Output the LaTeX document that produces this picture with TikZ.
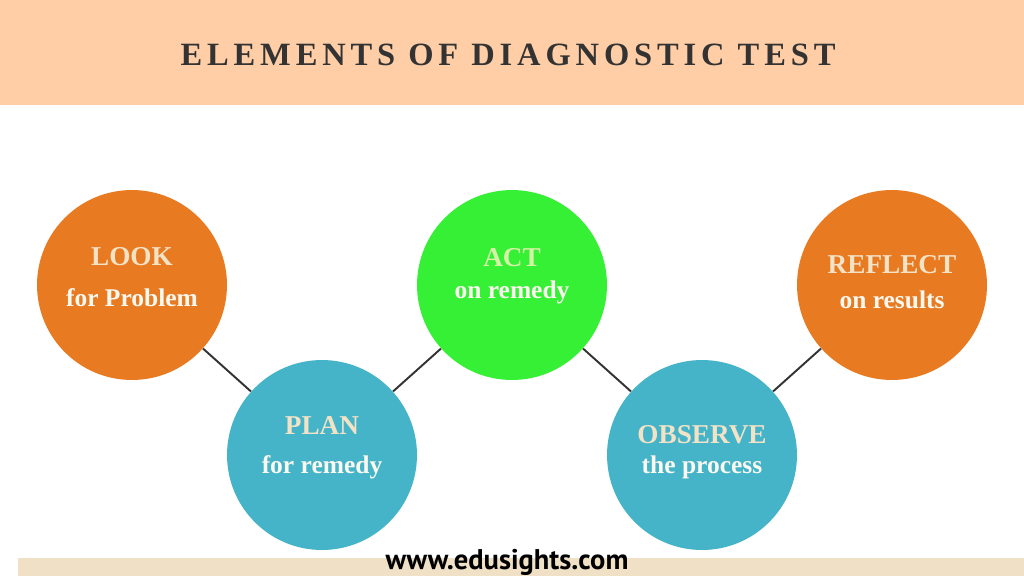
\documentclass[tikz,border=0pt]{standalone}
\usepackage{fontspec}
\setmainfont{Liberation Serif}
\newfontfamily\titlefont[LetterSpace=15]{Liberation Serif}
\newfontfamily\urlfont{PT Sans}
\definecolor{peach}{HTML}{FFCEA6}
\definecolor{sand}{HTML}{EFE0C6}
\definecolor{orangec}{HTML}{E87B22}
\definecolor{bluec}{HTML}{45B4C8}
\definecolor{greenc}{HTML}{35F035}
\definecolor{beige}{HTML}{F2E2C6}
\definecolor{lightgreen}{HTML}{D6F2A6}
\definecolor{offwhite}{HTML}{FBF8F0}
\definecolor{darktext}{HTML}{333333}
\tikzset{
  ball/.style={circle, minimum size=3.8cm, inner sep=0pt, draw=none},
  headline/.style={font=\fontsize{15.5}{18}\selectfont\bfseries, text=beige, inner sep=0pt},
  subline/.style={font=\fontsize{14.5}{17}\selectfont\bfseries, text=offwhite, inner sep=0pt},
  link/.style={draw=darktext, line width=1.1pt},
}
\begin{document}
\begin{tikzpicture}[x=0.02cm,y=-0.02cm]
\useasboundingbox (0,0) rectangle (1024,576);
\fill[white] (0,0) rectangle (1024,576);
\fill[peach] (0,0) rectangle (1024,105);
\fill[sand] (18,558) rectangle (1024,576);
\node[inner sep=0pt, text=darktext, font=\titlefont\fontsize{18.5}{20}\selectfont\bfseries] (title) at (508,55) {ELEMENTS OF DIAGNOSTIC TEST};

\node[ball, fill=orangec] (look) at (132,285) {};
\node[ball, fill=bluec] (plan) at (322,455) {};
\node[ball, fill=greenc] (act) at (512,285) {};
\node[ball, fill=bluec] (observe) at (702,455) {};
\node[ball, fill=orangec] (reflect) at (892,285) {};

\draw[link] (look) -- (plan);
\draw[link] (plan) -- (act);
\draw[link] (act) -- (observe);
\draw[link] (observe) -- (reflect);

\node[headline] (lookA) at (132,257) {LOOK};
\node[subline] (lookB) at (132,298) {for Problem};
\node[headline] (planA) at (322,425) {PLAN};
\node[subline] (planB) at (322,467) {for remedy};
\node[headline, text=lightgreen] (actA) at (512,258) {ACT};
\node[subline] (actB) at (512,292) {on remedy};
\node[headline] (observeA) at (702,435) {OBSERVE};
\node[subline] (observeB) at (702,467) {the process};
\node[headline] (reflectA) at (892,265) {REFLECT};
\node[subline] (reflectB) at (892,300) {on results};

\node[inner sep=0pt, font=\urlfont\fontsize{16.2}{18}\selectfont\bfseries, text=black] (url) at (507,562) {www.edusights.com};
\end{tikzpicture}
\end{document}
